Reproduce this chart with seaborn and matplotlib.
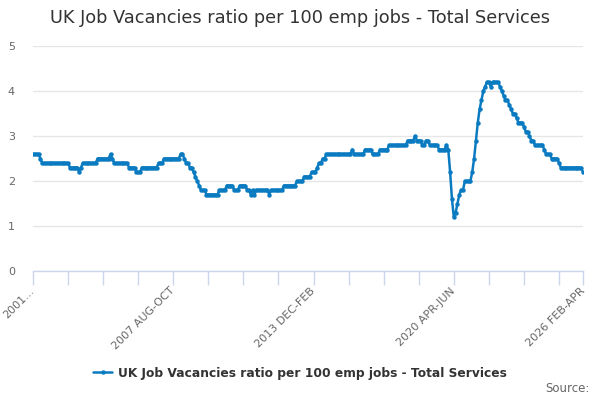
import matplotlib
matplotlib.use("Agg")
import matplotlib.pyplot as plt
import seaborn as sns
import pandas as pd


# Data: rolling 3-month periods, first one is 2001 APR-JUN, last one 2026 FEB-APR

seriesName = 'UK Job Vacancies ratio per 100 emp jobs - Total Services'

firstYear = 2001
firstMonth = 4   # April

ratioValues = [
  2.6, 2.6, 2.6, 2.6, 2.5, 2.4, 2.4, 2.4, 2.4, 2.4, 2.4, 2.4,   # 2001
  2.4, 2.4, 2.4, 2.4, 2.4, 2.4, 2.4, 2.4, 2.3, 2.3, 2.3, 2.3,   # 2002
  2.3, 2.2, 2.3, 2.4, 2.4, 2.4, 2.4, 2.4, 2.4, 2.4, 2.4, 2.5,   # 2003
  2.5, 2.5, 2.5, 2.5, 2.5, 2.5, 2.6, 2.5, 2.4, 2.4, 2.4, 2.4,   # 2004
  2.4, 2.4, 2.4, 2.4, 2.3, 2.3, 2.3, 2.3, 2.2, 2.2, 2.2, 2.3,   # 2005
  2.3, 2.3, 2.3, 2.3, 2.3, 2.3, 2.3, 2.3, 2.4, 2.4, 2.4, 2.5,   # 2006
  2.5, 2.5, 2.5, 2.5, 2.5, 2.5, 2.5, 2.5, 2.6, 2.6, 2.5, 2.4,   # 2007
  2.4, 2.3, 2.3, 2.2, 2.1, 2.0, 1.9, 1.8, 1.8, 1.8, 1.7, 1.7,   # 2008
  1.7, 1.7, 1.7, 1.7, 1.7, 1.8, 1.8, 1.8, 1.8, 1.9, 1.9, 1.9,   # 2009
  1.9, 1.8, 1.8, 1.8, 1.9, 1.9, 1.9, 1.9, 1.8, 1.8, 1.7, 1.8,   # 2010
  1.7, 1.8, 1.8, 1.8, 1.8, 1.8, 1.8, 1.8, 1.7, 1.8, 1.8, 1.8,   # 2011
  1.8, 1.8, 1.8, 1.8, 1.9, 1.9, 1.9, 1.9, 1.9, 1.9, 1.9, 2.0,   # 2012
  2.0, 2.0, 2.0, 2.1, 2.1, 2.1, 2.1, 2.2, 2.2, 2.2, 2.3, 2.4,   # 2013
  2.4, 2.5, 2.5, 2.6, 2.6, 2.6, 2.6, 2.6, 2.6, 2.6, 2.6, 2.6,   # 2014
  2.6, 2.6, 2.6, 2.6, 2.6, 2.7, 2.6, 2.6, 2.6, 2.6, 2.6, 2.6,   # 2015
  2.7, 2.7, 2.7, 2.7, 2.6, 2.6, 2.6, 2.6, 2.7, 2.7, 2.7, 2.7,   # 2016
  2.7, 2.8, 2.8, 2.8, 2.8, 2.8, 2.8, 2.8, 2.8, 2.8, 2.8, 2.9,   # 2017
  2.9, 2.9, 2.9, 3.0, 2.9, 2.9, 2.9, 2.8, 2.8, 2.9, 2.9, 2.8,   # 2018
  2.8, 2.8, 2.8, 2.8, 2.7, 2.7, 2.7, 2.7, 2.8, 2.7, 2.2, 1.6,   # 2019
  1.2, 1.3, 1.5, 1.7, 1.8, 1.8, 2.0, 2.0, 2.0, 2.0, 2.2, 2.5,   # 2020
  2.9, 3.3, 3.6, 3.8, 4.0, 4.1, 4.2, 4.2, 4.1, 4.2, 4.2, 4.2,   # 2021
  4.2, 4.1, 4.0, 3.9, 3.8, 3.8, 3.7, 3.6, 3.5, 3.5, 3.4, 3.3,   # 2022
  3.3, 3.3, 3.2, 3.1, 3.1, 3.0, 2.9, 2.9, 2.8, 2.8, 2.8, 2.8,   # 2023
  2.8, 2.7, 2.6, 2.6, 2.6, 2.5, 2.5, 2.5, 2.5, 2.4, 2.3, 2.3,   # 2024
  2.3, 2.3, 2.3, 2.3, 2.3, 2.3, 2.3, 2.3, 2.3, 2.3, 2.2,        # 2025-2026
]

monthNames = ['JAN', 'FEB', 'MAR', 'APR', 'MAY', 'JUN', 'JUL', 'AUG', 'SEP', 'OCT', 'NOV', 'DEC']

# Period labels like "2007 AUG-OCT"
periodLabels = []
for i in range(len(ratioValues)):
  m = firstMonth - 1 + i
  year = firstYear + m // 12
  periodLabels.append(str(year) + ' ' + monthNames[m % 12] + '-' + monthNames[(m + 2) % 12])

shownLabels = {0: '2001...', 76: periodLabels[76], 152: periodLabels[152],
               228: periodLabels[228], len(ratioValues) - 1: periodLabels[-1]}

df = pd.DataFrame({'pos': range(len(ratioValues)), 'Period': periodLabels, 'Ratio': ratioValues})


# Plotting

sns.set_style("white")
plt.rcParams['font.family'] = ['DejaVu Sans']

lineColor = '#0b7bc1'
axisColor = '#ccd6eb'
gridColor = '#e6e6e6'
labelColor = '#666666'

fig = plt.figure(figsize=(6, 4), dpi=100)
ax = fig.add_axes([33 / 600, 1 - 271 / 400, 550 / 600, 225 / 400])

sns.lineplot(ax=ax, data=df, x='pos', y='Ratio', color=lineColor, linewidth=1.8,
             marker='o', markersize=3.2, markeredgewidth=0, label=seriesName)

ax.set_xlim(0, len(ratioValues) - 1)
ax.set_ylim(0, 5)
ax.set_yticks([0, 1, 2, 3, 4, 5])
ax.yaxis.grid(True, color=gridColor, linewidth=1)
ax.set_axisbelow(True)
ax.tick_params(axis='y', length=0, labelsize=8, labelcolor=labelColor, pad=13)
for t in ax.get_yticklabels():
  t.set_horizontalalignment('right')

tickPositions = list(range(0, len(ratioValues), 19)) + [len(ratioValues) - 1]
ax.set_xticks(tickPositions)
ax.set_xticklabels([shownLabels.get(p, '') for p in tickPositions], rotation=45,
                   ha='right', va='center', rotation_mode='anchor')
ax.tick_params(axis='x', bottom=True, length=10, width=1, color=axisColor, labelsize=8,
               labelcolor=labelColor, pad=3, direction='out')

for side in ['left', 'right', 'top']:
  ax.spines[side].set_visible(False)
ax.spines['bottom'].set_color(axisColor)
ax.spines['bottom'].set_linewidth(1)

ax.set_xlabel('')
ax.set_ylabel('')

fig.text(0.5, 1 - 18 / 400, seriesName, ha='center', va='center', fontsize=12.8, color='#333333')

ax.get_legend().remove()
handles, labels = ax.get_legend_handles_labels()
fig.legend(handles, labels, loc='center', bbox_to_anchor=(0.5, 1 - 373 / 400), frameon=False,
           prop={'weight': 'bold', 'size': 8.8}, labelcolor='#333333', handlelength=1.6,
           handletextpad=0.5)

fig.text(0.982, 1 - 389 / 400, 'Source:', ha='right', va='center', fontsize=8.5, color=labelColor)

fig.savefig('out.png', dpi=100)
